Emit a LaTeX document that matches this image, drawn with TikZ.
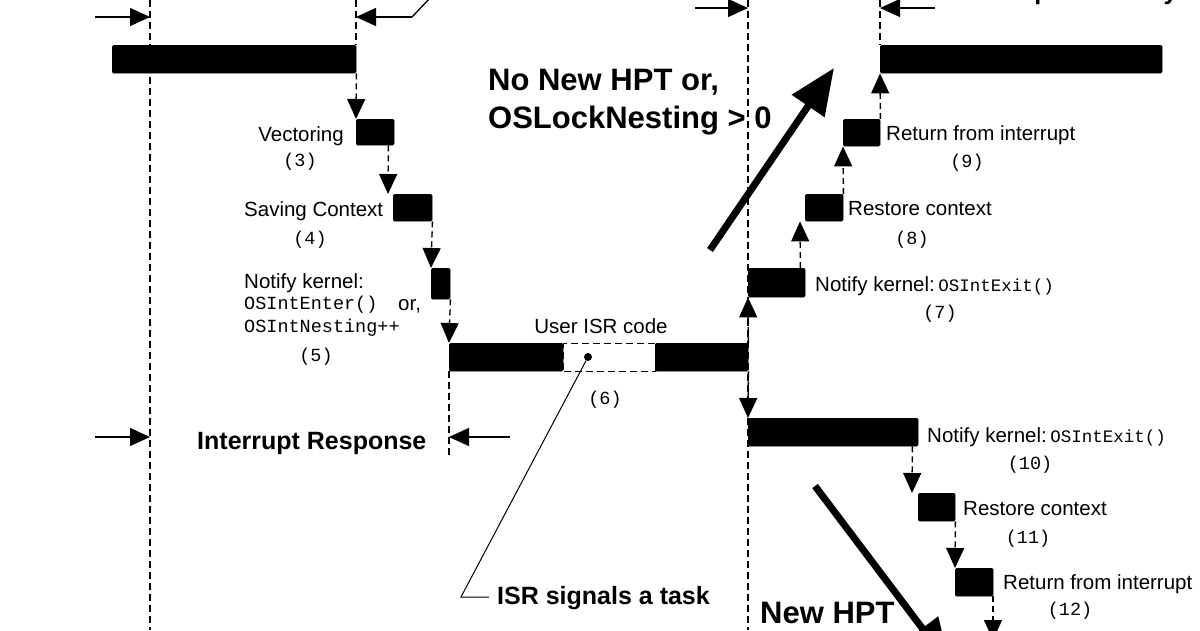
\documentclass[tikz,border=0pt]{standalone}
\usepackage{fontspec}
\setmainfont{Liberation Sans}
\newfontfamily\monof{Liberation Mono}
\usetikzlibrary{arrows.meta}
\begin{document}
\begin{tikzpicture}[x=1pt,y=-1pt,
  blk/.style={fill=black,draw=black,rounded corners=1.5pt,inner sep=0pt,anchor=north west},
  lbl/.style={font=\fontsize{20.5}{22}\selectfont,inner sep=0pt},
  num/.style={font=\monof\fontsize{18.5}{20}\selectfont,inner sep=0pt},
  big/.style={font=\bfseries\fontsize{25}{27}\selectfont,inner sep=0pt},
  huge/.style={font=\bfseries\fontsize{31}{34}\selectfont,inner sep=0pt},
  vline/.style={dash pattern=on 7pt off 4pt,line width=1.1pt},
  darr/.style={dash pattern=on 6pt off 4pt,line width=1.4pt,-{Triangle[width=18pt,length=20pt]}},
  sarr/.style={line width=1.4pt,-{Triangle[width=18pt,length=20pt]}},
  fat/.style={line width=7pt,-{Triangle[width=38pt,length=46pt]}}]
\useasboundingbox (0,0) rectangle (1200,630);
\clip (0,0) rectangle (1200,630);
% vertical dashed guides
\draw[vline] (150,0) -- (150,630);
\draw[vline] (356,0) -- (356,45);
\draw[vline] (449,371) -- (449,458);
\draw[vline] (748,0) -- (748,630);
\draw[vline] (880,0) -- (880,45);
% top dimension arrows
\coordinate (tl1) at (95,17); \coordinate (tl2) at (150,17);
\coordinate (tr0) at (430,-2); \coordinate (tr1) at (412,17); \coordinate (tr2) at (356,17);
\draw[sarr] (tl1) -- (tl2);
\draw[line width=1.3pt] (tr0) -- (tr1);
\draw[sarr] (tr1) -- (tr2);
\coordinate (rr1) at (695,8); \coordinate (rr2) at (748,8);
\coordinate (rl1) at (935,8); \coordinate (rl2) at (880,8);
\draw[sarr] (rr1) -- (rr2);
\draw[sarr] (rl1) -- (rl2);
\node[big,anchor=base west] (rec) at (955,-1) {Interrupt Recovery};
% task bars
\node[blk,minimum width=244pt,minimum height=28pt] (t1) at (112,45) {};
\node[blk,minimum width=282pt,minimum height=28pt] (t2) at (880,45) {};
% entry blocks
\node[blk,minimum width=38pt,minimum height=26pt] (b3) at (356,119) {};
\node[blk,minimum width=39pt,minimum height=27pt] (b4) at (393,194) {};
\node[blk,minimum width=19pt,minimum height=31pt] (b5) at (431,268) {};
\draw[darr] (t1.south east) -- (b3.north west);
\draw[darr] ([xshift=-6pt]b3.south east) -- ([xshift=-5pt]b4.north west);
\draw[darr] (b4.south east) -- (b5.north west);
\node[lbl,anchor=base east] (l3) at (344,141) {Vectoring};
\node[num,anchor=base] (n3) at (300,166) {(3)};
\node[lbl,anchor=base west] (l4) at (244,216) {Saving Context};
\node[num,anchor=base] (n4) at (310,244) {(4)};
\node[lbl,anchor=base west] (l5) at (244,288) {Notify kernel:};
\node[num,anchor=base west] (l5b) at (244,309) {OSIntEnter()};
\node[lbl,anchor=base west] (l5c) at (398,310) {or,};
\node[num,anchor=base west] (l5d) at (244,332) {OSIntNesting++};
\node[num,anchor=base] (n5) at (316,361) {(5)};
% ISR bar
\node[blk,minimum width=114pt,minimum height=28pt] (i1) at (449,343) {};
\node[draw=black,dash pattern=on 7pt off 4pt,line width=1.1pt,fill=white,anchor=north west,minimum width=92pt,minimum height=28pt,inner sep=0pt] (i2) at (563,343) {};
\node[blk,minimum width=93pt,minimum height=28pt] (i3) at (655,343) {};
\draw[darr] (b5.south east) -- (i1.north west);
\node[lbl,anchor=base] (l6) at (601,333) {User ISR code};
\node[num,anchor=base] (n6) at (605,404) {(6)};
\node[circle,fill=black,inner sep=0pt,minimum size=8pt] (dot) at (588,357) {};
\coordinate (c1) at (461,597); \coordinate (c2) at (489,597);
\draw[line width=1pt] (dot) -- (c1) -- (c2);
\node[big,anchor=base west] (sig) at (497,604) {ISR signals a task};
% interrupt response
\coordinate (ir1) at (95,437); \coordinate (ir2) at (150,437);
\coordinate (ir3) at (510,437); \coordinate (ir4) at (449,437);
\draw[sarr] (ir1) -- (ir2);
\draw[sarr] (ir3) -- (ir4);
\node[big,anchor=base west] (irt) at (197,449) {Interrupt Response};
% exit to same task
\node[blk,minimum width=57pt,minimum height=29pt] (b7) at (748,268) {};
\node[blk,minimum width=38pt,minimum height=27pt] (b8) at (805,194) {};
\node[blk,minimum width=37pt,minimum height=27pt] (b9) at (843,119) {};
\draw[darr] (i3.north east) -- (b7.south west);
\draw[darr] ([xshift=-5pt]b7.north east) -- ([xshift=-5pt]b8.south west);
\draw[darr] (b8.north east) -- (b9.south west);
\draw[darr] (b9.north east) -- (t2.south west);
\node[lbl,anchor=base west] (l7) at (815,291) {Notify kernel:\,{\monof\fontsize{17.5}{19}\selectfont OSIntExit()}};
\node[num,anchor=base] (n7) at (940,318) {(7)};
\node[lbl,anchor=base west] (l8) at (848,215) {Restore context};
\node[num,anchor=base] (n8) at (912,244) {(8)};
\node[lbl,anchor=base west] (l9) at (886,140) {Return from interrupt};
\node[num,anchor=base] (n9) at (967,167) {(9)};
\coordinate (f1) at (710,250); \coordinate (f2) at (834,68);
\draw[fat] (f1) -- (f2);
\node[huge,anchor=base west] (nn1) at (488,90) {No New HPT or,};
\node[huge,anchor=base west] (nn2) at (488,128) {OSLockNesting > 0};
% exit to new task
\node[blk,minimum width=170pt,minimum height=28pt] (b10) at (748,418) {};
\node[blk,minimum width=37pt,minimum height=28pt] (b11) at (918,493) {};
\node[blk,minimum width=38pt,minimum height=28pt] (b12) at (955,568) {};
\coordinate (end) at (993,640);
\draw[darr] (i3.south east) -- (b10.north west);
\draw[darr] ([xshift=-6pt]b10.south east) -- ([xshift=-6pt]b11.north west);
\draw[darr] (b11.south east) -- (b12.north west);
\draw[darr] ([xshift=38pt]b12.south west) -- (end);
\node[lbl,anchor=base west] (l10) at (927,442) {Notify kernel:\,{\monof\fontsize{17.5}{19}\selectfont OSIntExit()}};
\node[num,anchor=base] (n10) at (1030,469) {(10)};
\node[lbl,anchor=base west] (l11) at (963,515) {Restore context};
\node[num,anchor=base] (n11) at (1028,543) {(11)};
\node[lbl,anchor=base west] (l12) at (1003,589) {Return from interrupt};
\node[num,anchor=base] (n12) at (1070,615) {(12)};
\coordinate (g1) at (815,486); \coordinate (g2) at (950,665);
\draw[fat] (g1) -- (g2);
\node[huge,anchor=base west] (nh) at (760,623) {New HPT};
\end{tikzpicture}
\end{document}
